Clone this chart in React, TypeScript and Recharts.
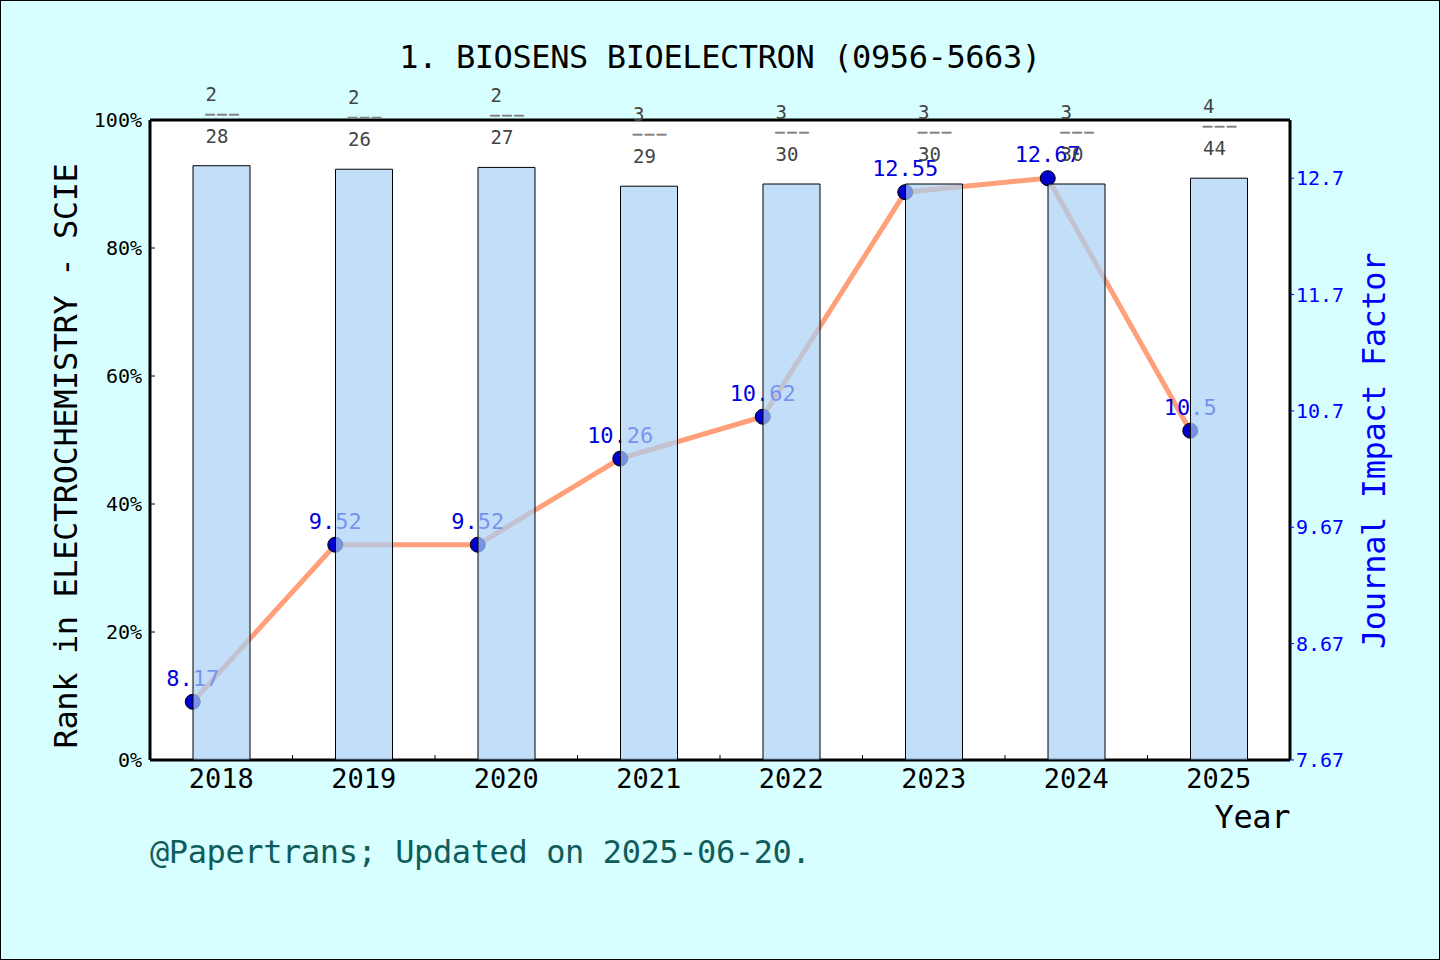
import React from 'react';
import { ComposedChart, Bar, Line, XAxis, YAxis, CartesianGrid, ReferenceLine, LabelList, Label } from 'recharts';

// journal ranking per year (rank / number of journals in category)
const years = ['2018', '2019', '2020', '2021', '2022', '2023', '2024', '2025'];
const ranks = [2, 2, 2, 3, 3, 3, 3, 4];
const totals = [28, 26, 27, 29, 30, 30, 30, 44];
const impactFactors = [8.17, 9.52, 9.52, 10.26, 10.62, 12.55, 12.67, 10.5];

const rankTicks = [0, 0.2, 0.4, 0.6, 0.8, 1];
const ifTicks = [7.67, 8.67, 9.67, 10.67, 11.67, 12.67];
const ifDomain = [7.67, 13.17];

const MONO = '"DejaVu Sans Mono", "Liberation Mono", monospace';
const W = 1440;
const H = 960;
const PLOT_LEFT = 150;
const PLOT_RIGHT = 1290;
const BAR_SIZE = 57;
const BAND = (PLOT_RIGHT - PLOT_LEFT) / years.length;
// impact factor points sit on the left edge of each bar
const LINE_SHIFT = BAR_SIZE / 2 / BAND;

const data = years.map((year, i) => ({
  year,
  idx: i,
  share: 1 - ranks[i] / totals[i],
  impact: impactFactors[i],
}));

const FractionLabel = (props: any) => {
  const { x, y, width, index } = props;
  const left = x + width / 2 - 16;
  return (
    <g fontFamily={MONO} fontSize={19}>
      <text x={left} y={y - 65} fill="#444">{ranks[index]}</text>
      <text x={left} y={y - 47} fill="#808080" stroke="#808080" strokeWidth={0.8}
        fontSize={15} letterSpacing={3}>{'\u2013\u2013\u2013'}</text>
      <text x={left} y={y - 23} fill="#444">{totals[index]}</text>
    </g>
  );
};

const ImpactDot = (props: any) => {
  const { cx, cy, payload, index } = props;
  if (cx == null || cy == null) return null;
  return (
    <g key={`dot-${index}`}>
      <circle cx={cx} cy={cy} r={7.5} fill="#0000cc" stroke="#000" strokeWidth={1} />
      <text x={cx} y={cy - 16} textAnchor="middle" fontFamily={MONO} fontSize={22} fill="#0000dd">
        {String(payload.impact)}
      </text>
    </g>
  );
};

const YearTick = (props: any) => {
  const { x, y, payload } = props;
  return (
    <g>
      <text x={x} y={y + 28} textAnchor="middle" fontFamily={MONO} fontSize={27} fill="#000">
        {payload.value}
      </text>
      <line x1={x + BAND / 2} x2={x + BAND / 2} y1={y} y2={y - 5} stroke="#000" strokeWidth={1} />
    </g>
  );
};

const LeftTitle = (props: any) => {
  const vb = props.viewBox;
  const x = vb.x - 24;
  const y = vb.y + vb.height / 2 + 16;
  return (
    <text x={x} y={y} transform={`rotate(-90 ${x} ${y})`} textAnchor="middle" dominantBaseline="central"
      fontFamily={MONO} fontSize={32} letterSpacing={-0.4} fill="#000">
      Rank in ELECTROCHEMISTRY - SCIE
    </text>
  );
};

const RightTitle = (props: any) => {
  const vb = props.viewBox;
  const x = vb.x + vb.width + 24;
  const y = vb.y + vb.height / 2 + 11;
  return (
    <text x={x} y={y} transform={`rotate(-90 ${x} ${y})`} textAnchor="middle" dominantBaseline="central"
      fontFamily={MONO} fontSize={32} letterSpacing={-0.4} fill="#0000ff">
      Journal Impact Factor
    </text>
  );
};

const YearTitle = (props: any) => {
  const vb = props.viewBox;
  return (
    <text x={vb.x + vb.width} y={vb.y + 68} textAnchor="end" fontFamily={MONO} fontSize={32} letterSpacing={-0.4} fill="#000">
      Year
    </text>
  );
};

const App = () => {
  return (
    <div style={{ position: 'absolute', left: 0, top: 0, width: W, height: H, background: '#d8ffff' }}>
      <div style={{
        position: 'absolute', left: 0, top: 41, width: W, textAlign: 'center',
        fontFamily: MONO, fontSize: 32, lineHeight: '32px', letterSpacing: -0.4, color: '#000',
      }}>
        1. BIOSENS BIOELECTRON (0956-5663)
      </div>
      <ComposedChart width={W} height={H} data={data} margin={{ top: 120, right: 90, left: 90, bottom: 160 }}>
        <CartesianGrid horizontal={false} vertical={false} fill="#ffffff" />
        <XAxis dataKey="year" height={40} interval={0} tickLine={false} tickSize={0} tickMargin={0}
          axisLine={{ stroke: '#000', strokeWidth: 3 }} tick={<YearTick />}>
          <Label content={<YearTitle />} />
        </XAxis>
        <XAxis xAxisId="num" type="number" dataKey="idx" hide allowDataOverflow
          domain={[-0.5 + LINE_SHIFT, years.length - 0.5 + LINE_SHIFT]} />
        <YAxis width={60} domain={[0, 1]} ticks={rankTicks} interval={0}
          tickFormatter={(v: number) => `${Math.round(v * 100)}%`}
          tick={{ fontFamily: MONO, fontSize: 20, fill: '#000' }}
          tickSize={-5} tickMargin={13}
          tickLine={{ stroke: '#000' }} axisLine={{ stroke: '#000', strokeWidth: 3 }}>
          <Label content={<LeftTitle />} />
        </YAxis>
        <YAxis yAxisId="if" orientation="right" width={60} domain={ifDomain} ticks={ifTicks} interval={0}
          allowDataOverflow tickFormatter={(v: number) => v.toPrecision(3)}
          tick={{ fontFamily: MONO, fontSize: 20, fill: '#0000ff' }}
          tickSize={4} tickMargin={2}
          tickLine={{ stroke: '#0000ff' }} axisLine={{ stroke: '#000', strokeWidth: 3 }}>
          <Label content={<RightTitle />} />
        </YAxis>
        <Line xAxisId="num" yAxisId="if" dataKey="impact" type="linear" stroke="#ffa07a" strokeWidth={5}
          dot={<ImpactDot />} activeDot={false} isAnimationActive={false} />
        <Bar dataKey="share" barSize={BAR_SIZE} fill="#aad0f5" fillOpacity={0.7} stroke="#000" strokeWidth={1}
          isAnimationActive={false} {...({ zIndex: 1900 } as any)}>
          <LabelList dataKey="share" content={<FractionLabel />} />
        </Bar>
        <ReferenceLine y={1} stroke="#000" strokeWidth={3} />
      </ComposedChart>
      <div style={{
        position: 'absolute', left: 150, top: 836, fontFamily: MONO, fontSize: 32, lineHeight: '32px',
        letterSpacing: -0.4, color: '#0f5c5c', whiteSpace: 'nowrap',
      }}>
        @Papertrans; Updated on 2025-06-20.
      </div>
      <div style={{ position: 'absolute', left: 0, top: 0, width: W, height: H, boxSizing: 'border-box', border: '1px solid #000', pointerEvents: 'none' }} />
    </div>
  );
};

export default App;
